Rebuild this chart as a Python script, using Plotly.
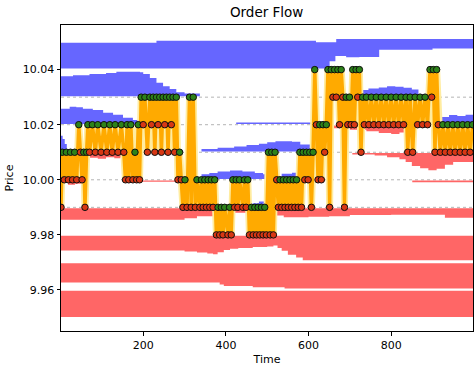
import plotly.graph_objects as go

# ---------------- data ----------------
# trades: time and price
trade_t = [1, 4, 9, 14, 19, 24, 29, 34, 39, 44, 48, 52, 56, 59, 63,
           66, 70, 77, 84, 90, 98, 105, 112, 119, 125, 132, 139, 147, 153,
           157, 161, 165, 170, 175, 180, 184, 188, 191,
           195, 200, 204, 210, 216, 220, 224, 228, 232, 236, 240, 244, 248, 252, 256, 260,
           264, 268, 272, 276, 280, 284, 288, 292, 296, 301, 306, 312, 316, 321, 326,
           330, 337, 341, 345, 349, 353, 357, 361, 365, 369, 373,
           377, 381, 385, 389, 393, 397, 405, 409, 413, 417, 421, 425, 429, 433, 441, 445, 449, 453,
           457, 462, 466, 470, 474, 478, 482, 486, 490, 494, 498, 503, 507, 511, 515, 519,
           523, 527, 531, 535, 539, 543, 547, 551, 555, 559, 563, 567, 571, 575, 579, 583,
           587, 591, 595, 599, 603, 607, 611,
           615, 619, 623, 627, 631, 635, 639, 643, 647, 651, 655, 659, 663, 667, 671, 675,
           679, 683, 687, 691, 695, 699, 703,
           707, 711, 715, 719, 723, 727, 731, 735,
           740, 746, 752, 758, 764, 770, 776, 782, 788, 794, 800, 806, 812, 818, 824, 830,
           836, 840, 846, 852, 858, 864, 870, 876, 882, 888, 894, 898, 902, 906, 910, 914,
           919, 925, 931, 937, 943, 949, 955, 961, 967, 973, 979, 985, 991, 997]
trade_p = [9.99, 10.01, 10.00, 10.01, 10.00, 10.01, 10.00, 10.01, 10.00, 10.02, 10.01, 10.00, 10.01, 9.99, 10.01,
           10.02, 10.01, 10.02, 10.01, 10.02, 10.01, 10.02, 10.01, 10.02, 10.01, 10.02, 10.01, 10.02, 10.01,
           10.00, 10.02, 10.00, 10.02, 10.00, 10.01, 10.00, 10.02, 10.00,
           10.03, 10.02, 10.03, 10.01, 10.03, 10.02, 10.03, 10.01, 10.03, 10.02, 10.03, 10.01, 10.03, 10.02, 10.03, 10.01,
           10.03, 10.02, 10.03, 10.01, 10.03, 10.00, 10.01, 10.00, 9.99, 10.00, 9.99, 10.03, 9.99, 10.03, 9.99,
           10.00, 9.99, 10.00, 9.99, 10.00, 9.99, 10.00, 9.99, 10.00, 9.99, 10.00,
           9.98, 9.99, 9.98, 9.99, 9.98, 9.99, 9.98, 9.99, 9.98, 10.00, 9.99, 10.00, 9.99, 10.00, 9.99, 10.00, 9.99, 10.00,
           9.98, 9.99, 9.98, 9.99, 9.98, 9.99, 9.98, 9.99, 9.98, 9.99, 9.98, 10.01, 9.98, 10.01, 9.98, 10.01,
           10.00, 9.99, 10.00, 9.99, 10.00, 9.99, 10.00, 9.99, 10.00, 9.99, 10.00, 9.99, 10.00, 9.99, 10.01, 9.99,
           10.01, 10.00, 10.01, 10.00, 10.01, 9.99, 10.01,
           10.04, 10.02, 10.00, 10.02, 10.00, 10.02, 10.01, 10.02, 10.04, 9.99, 10.04, 10.03, 10.04, 10.03, 10.04, 10.02,
           10.04, 10.03, 9.99, 10.03, 10.02, 10.03, 10.02,
           10.04, 10.02, 10.04, 10.03, 10.04, 10.01, 10.03, 10.02,
           10.03, 10.02, 10.03, 10.02, 10.03, 10.02, 10.03, 10.02, 10.03, 10.02, 10.03, 10.02, 10.03, 10.02, 10.03, 10.02,
           10.03, 10.01, 10.03, 10.01, 10.03, 10.02, 10.03, 10.02, 10.03, 10.02, 10.04, 10.03, 10.04, 10.01, 10.04, 10.02,
           10.01, 10.02, 10.01, 10.02, 10.01, 10.02, 10.01, 10.02, 10.01, 10.02, 10.01, 10.02, 10.01, 10.02]

# order book depth bands: breakpoint times and the moving edge (price units)
# asks (blue) rise from their level, bids (red) hang below their level
ask_1004_t = [1, 232, 618, 651, 665, 667, 691, 723, 771, 900, 998]
ask_1004_lo = [10.0404, 10.0404, 10.0404, 10.0430, 10.0449, 10.0449, 10.0445, 10.0446, 10.0472, 10.0477]
ask_1004_hi = [10.0498, 10.0505, 10.0499, 10.0499, 10.0499, 10.0511, 10.0511, 10.0511, 10.0511, 10.0511]

ask_1003a_t = [1, 30, 70, 110, 135, 192, 200, 216, 232, 248, 264, 280, 300, 337]
ask_1003a_hi = [10.0376, 10.0380, 10.0384, 10.0388, 10.0392, 10.0390, 10.0384, 10.0370, 10.0352,
                10.0340, 10.0330, 10.0318, 10.0313]
ask_1003b_t = [707, 725, 745, 770, 790, 810, 830, 850, 866, 900]
ask_1003b_hi = [10.0318, 10.0326, 10.0331, 10.0335, 10.0340, 10.0338, 10.0334, 10.0328, 10.0310]

ask_1002a_t = [1, 22, 38, 54, 78, 103, 127, 151, 175, 192]
ask_1002a_hi = [10.0258, 10.0265, 10.0263, 10.0258, 10.0253, 10.0243, 10.0236, 10.0225, 10.0217]
ask_1002b_t = [425, 619]
ask_1002b_hi = [10.0208]
ask_1002c_t = [921, 940, 960, 980, 998]
ask_1002c_hi = [10.0228, 10.0235, 10.0232, 10.0236]

ask_1001a_t = [1, 5, 10, 15, 20]
ask_1001a_hi = [10.0160, 10.0148, 10.0130, 10.0112]
ask_1001b_t = [341, 380, 420, 450, 480, 500, 520, 560, 580, 612]
ask_1001b_hi = [10.0112, 10.0116, 10.0121, 10.0126, 10.0131, 10.0136, 10.0140, 10.0138, 10.0128]

ask_1000a_t = [341, 360, 380, 410, 440, 470, 490, 500]
ask_1000a_hi = [10.0020, 10.0025, 10.0030, 10.0034, 10.0030, 10.0025, 10.0020]
ask_1000b_t = [535, 560, 585]
ask_1000b_hi = [10.0022, 10.0026]

ask_999_t = [465, 480, 495, 505]
ask_999_hi = [9.9915, 9.9921, 9.9918]

bid_1002_t = [658, 700, 740, 770, 800, 820, 845]
bid_1002_lo = [10.0187, 10.0182, 10.0176, 10.0170, 10.0166, 10.0172]

bid_1001a_t = [55, 70, 90, 110, 130, 145, 157]
bid_1001a_lo = [10.0085, 10.0080, 10.0076, 10.0082, 10.0078, 10.0084]
bid_1001b_t = [706, 760, 790, 820, 835, 850, 870, 890, 910, 930, 950, 998]
bid_1001b_lo = [10.0092, 10.0088, 10.0082, 10.0075, 10.0065, 10.0050, 10.0042, 10.0035,
                10.0040, 10.0055, 10.0065]

bid_1000a_t = [18, 35, 60]
bid_1000a_lo = [9.9982, 9.9986]
bid_1000b_t = [190, 300]
bid_1000b_lo = [9.9993]
bid_1000c_t = [851, 998]
bid_1000c_lo = [9.9991]

bid_999_t = [1, 300, 330, 370, 420, 470, 510, 540, 600, 650, 700, 800, 930, 998]
bid_999_lo = [9.9855, 9.9860, 9.9868, 9.9876, 9.9880, 9.9876, 9.9870, 9.9864, 9.9866,
              9.9868, 9.9872, 9.9873, 9.9862]

bid_998_t = [1, 300, 330, 355, 369, 380, 395, 410, 430, 465, 500, 515, 525, 535, 550, 570, 586, 998]
bid_998_lo = [9.9743, 9.9740, 9.9736, 9.9732, 9.9730, 9.9737, 9.9745, 9.9750, 9.9752, 9.9756,
              9.9758, 9.9761, 9.9752, 9.9742, 9.9728, 9.9718, 9.9708]

bid_997_t = [1, 385, 395, 465, 542, 998]
bid_997_lo = [9.9627, 9.9620, 9.9614, 9.9610, 9.9605]

bid_996_t = [1, 998]
bid_996_lo = [9.9502]

guide_levels = [9.99, 10.00, 10.01, 10.02, 10.03]
y_ticks = [9.96, 9.98, 10.00, 10.02, 10.04]
y_tick_labels = ["9.96", "9.98", "10.00", "10.02", "10.04"]
x_ticks = [200, 400, 600, 800]

# ---------------- drawing ----------------
BLUE = "rgb(102,102,255)"
RED = "rgb(255,102,102)"
GAP = 0.0003

fig = go.Figure()


def add_band(t, edge_a, edge_b, color):
    ya = list(edge_a) + [edge_a[-1]]
    yb = list(edge_b) + [edge_b[-1]]
    fig.add_trace(go.Scatter(x=t, y=ya, mode="lines", line=dict(width=0, shape="hv"),
                             hoverinfo="skip", showlegend=False))
    fig.add_trace(go.Scatter(x=t, y=yb, mode="lines", line=dict(width=0, shape="hv"),
                             fill="tonexty", fillcolor=color, hoverinfo="skip", showlegend=False))


def ask(t, hi, level):
    add_band(t, [level + GAP] * len(hi), hi, BLUE)


def bid(t, lo, level):
    add_band(t, lo, [level - GAP] * len(lo), RED)


add_band(ask_1004_t, ask_1004_lo, ask_1004_hi, BLUE)
ask(ask_1003a_t, ask_1003a_hi, 10.03)
ask(ask_1003b_t, ask_1003b_hi, 10.03)
ask(ask_1002a_t, ask_1002a_hi, 10.02)
ask(ask_1002b_t, ask_1002b_hi, 10.02)
ask(ask_1002c_t, ask_1002c_hi, 10.02)
ask(ask_1001a_t, ask_1001a_hi, 10.01)
ask(ask_1001b_t, ask_1001b_hi, 10.01)
ask(ask_1000a_t, ask_1000a_hi, 10.00)
ask(ask_1000b_t, ask_1000b_hi, 10.00)
ask(ask_999_t, ask_999_hi, 9.99)

bid(bid_1002_t, bid_1002_lo, 10.02)
bid(bid_1001a_t, bid_1001a_lo, 10.01)
bid(bid_1001b_t, bid_1001b_lo, 10.01)
bid(bid_1000a_t, bid_1000a_lo, 10.00)
bid(bid_1000b_t, bid_1000b_lo, 10.00)
bid(bid_1000c_t, bid_1000c_lo, 10.00)
bid(bid_999_t, bid_999_lo, 9.99)
bid(bid_998_t, bid_998_lo, 9.98)
bid(bid_997_t, bid_997_lo, 9.97)
bid(bid_996_t, bid_996_lo, 9.96)

# trade path
fig.add_trace(go.Scatter(x=trade_t, y=trade_p, mode="lines",
                         line=dict(color="rgb(255,236,160)", width=7),
                         hoverinfo="skip", showlegend=False))
fig.add_trace(go.Scatter(x=trade_t, y=trade_p, mode="lines",
                         line=dict(color="rgb(255,170,0)", width=3.5),
                         hoverinfo="skip", showlegend=False))

colors = []
for i, p in enumerate(trade_p):
    if i > 0 and p > trade_p[i - 1]:
        colors.append("rgb(45,130,25)")
    else:
        colors.append("rgb(215,55,20)")
fig.add_trace(go.Scatter(x=trade_t, y=trade_p, mode="markers",
                         marker=dict(size=6.5, color=colors,
                                     line=dict(color="rgb(15,15,15)", width=1)),
                         showlegend=False))

shapes = []
for lv in guide_levels:
    shapes.append(dict(type="line", xref="paper", x0=0, x1=1, yref="y", y0=lv, y1=lv,
                       line=dict(color="rgba(120,120,120,0.7)", width=0.8, dash="dot"),
                       layer="below"))

fig.update_layout(
    width=474, height=372,
    margin=dict(l=61, r=1, t=25, b=41, autoexpand=False),
    paper_bgcolor="white", plot_bgcolor="white",
    font=dict(family="DejaVu Sans", size=11, color="black"),
    title=dict(text="Order Flow", x=0.5625, xref="container", xanchor="center",
               y=1 - 12.7 / 372, yref="container", yanchor="middle",
               font=dict(size=13.5, family="DejaVu Sans", color="black")),
    shapes=shapes,
    showlegend=False,
)
fig.update_xaxes(range=[1, 998], tickvals=x_ticks, ticks="outside", ticklen=3.5,
                 tickcolor="black", showline=True, linecolor="black", linewidth=1,
                 mirror=True, showgrid=False, zeroline=False, automargin=False,
                 title=dict(text="Time", standoff=4, font=dict(size=11)))
fig.update_yaxes(range=[9.9451, 10.0562], tickvals=y_ticks, ticktext=y_tick_labels,
                 ticks="outside", ticklen=3.5, tickcolor="black", showline=True,
                 linecolor="black", linewidth=1, mirror=True, showgrid=False,
                 zeroline=False, automargin=False,
                 title=dict(text="Price", standoff=6, font=dict(size=11)))

fig.write_html("out.html", config={"displayModeBar": False},
               post_script="document.body.style.margin='0';document.body.style.overflow='hidden';")
